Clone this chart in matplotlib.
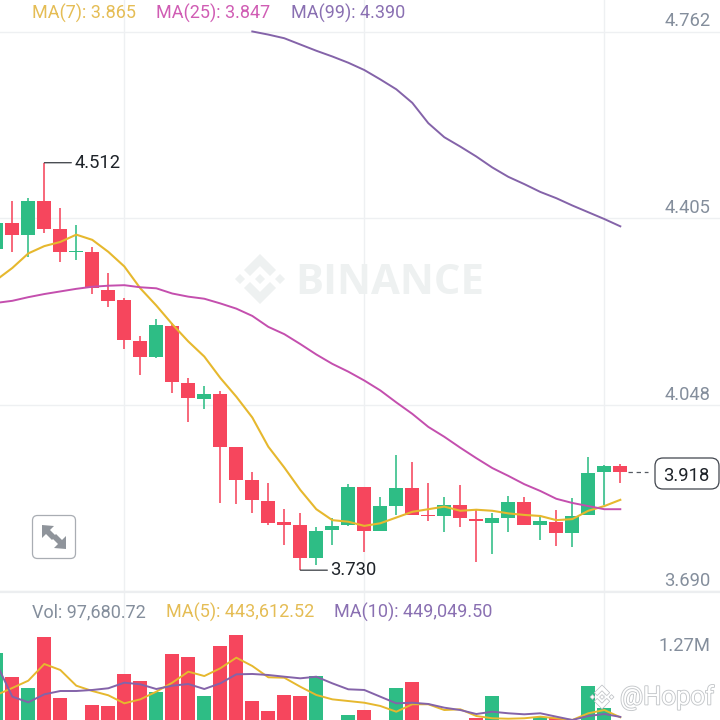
import matplotlib
matplotlib.use("Agg")
import matplotlib.pyplot as plt
import matplotlib.patheffects as pe
from matplotlib.patches import FancyBboxPatch, Polygon
from matplotlib.transforms import Affine2D, ScaledTranslation

opens = [4.346,4.396,4.373,4.438,4.384,4.340,4.341,4.268,4.249,4.170,4.140,4.199,4.089,4.059,4.069,3.967,3.904,3.863,3.822,3.817,
         3.754,3.807,3.816,3.889,3.806,3.853,3.888,3.836,3.833,3.856,3.829,3.821,3.830,3.861,3.816,3.823,3.802,3.835,3.919,3.929]
closes = [4.396,4.373,4.438,4.385,4.341,4.343,4.272,4.247,4.172,4.140,4.201,4.092,4.060,4.069,3.967,3.904,3.865,3.821,3.817,3.754,
          3.805,3.815,3.889,3.806,3.853,3.888,3.836,3.834,3.856,3.830,3.824,3.831,3.861,3.816,3.824,3.801,3.834,3.917,3.929,3.918]
highs = [4.396,4.438,4.444,4.512,4.426,4.392,4.351,4.300,4.252,4.180,4.212,4.204,4.098,4.083,4.074,3.967,3.918,3.898,3.847,3.840,
         3.812,3.831,3.895,3.889,3.871,3.952,3.938,3.897,3.871,3.893,3.847,3.839,3.873,3.870,3.833,3.845,3.868,3.948,3.932,3.933]
lows = [4.346,4.341,4.332,4.377,4.322,4.325,4.260,4.236,4.154,4.105,4.138,4.071,4.014,4.039,3.858,3.857,3.839,3.816,3.778,3.730,
        3.740,3.778,3.815,3.765,3.806,3.835,3.836,3.825,3.804,3.813,3.746,3.761,3.804,3.816,3.788,3.776,3.775,3.835,3.855,3.897]
ma7 = [4.287,4.310,4.338,4.352,4.360,4.374,4.364,4.341,4.313,4.271,4.238,4.202,4.169,4.140,4.099,4.063,4.023,3.967,3.927,3.884,
       3.847,3.826,3.823,3.815,3.820,3.831,3.842,3.847,3.852,3.844,3.846,3.844,3.839,3.836,3.834,3.826,3.828,3.844,3.853,3.865]
ma25 = [4.243,4.247,4.254,4.260,4.265,4.270,4.274,4.276,4.277,4.273,4.271,4.261,4.255,4.251,4.242,4.232,4.218,4.197,4.183,4.164,
        4.144,4.126,4.111,4.094,4.075,4.052,4.030,4.005,3.986,3.965,3.945,3.926,3.911,3.895,3.882,3.867,3.859,3.853,3.847,3.847]
ma99 = [4.764,4.758,4.751,4.739,4.727,4.716,4.704,4.690,4.672,4.653,4.627,4.588,4.561,4.543,4.524,4.503,4.485,4.471,4.456,4.444,
        4.430,4.417,4.404,4.390]
volumes = [1311,994,841,1528,709,340,606,593,1026,936,782,1302,1257,732,1414,1559,664,533,742,728,
           1003,339,479,542,298,837,926,271,298,325,438,732,339,380,452,430,325,868,565,97.68]
vol_ma5 = [746,841,940,1166,1085,872,800,742,633,687,791,913,1062,1003,1108,1252,1139,986,980,858,
           746,687,664,641,597,519,620,620,542,552,461,430,424,430,452,430,407,498,542,443.6]
vol_ma10 = [1176,723,647,755,800,800,814,837,913,891,827,872,895,827,904,1026,1031,1017,994,972,
            994,904,823,814,723,633,641,624,574,542,488,519,498,484,498,452,407,461,488,449.0]
price_ticks = [3.690, 4.047, 4.4054, 4.7630]
price_tick_labels = ["3.690", "4.048", "4.405", "4.762"]
vol_ticks = [1270]
vol_tick_labels = ["1.27M"]
time_ticks = [8, 23, 38]
legend_price = [("MA(7): 3.865", "#e5bd55"), ("MA(25): 3.847", "#d05db4"), ("MA(99): 4.390", "#8a70b2")]
legend_vol = [("Vol: 97,680.72", "#848e9c"), ("MA(5): 443,612.52", "#e5bd55"), ("MA(10): 449,049.50", "#8a70b2")]

RED, GREEN = "#f6465d", "#2ebd85"
YEL, MAG, PUR = "#e6b82e", "#c44fae", "#8463a9"
GRID, GRAY, DARK = "#eef0f2", "#848e9c", "#1e2329"
plt.rcParams["font.family"] = ["Roboto", "DejaVu Sans"]

fig = plt.figure(figsize=(7.2, 7.2), dpi=100, facecolor="white")
ax = fig.add_axes([0, 129/720, 1, 591/720])
vx = fig.add_axes([0, 0, 1, 128/720], sharex=ax)
px = Affine2D().scale(1, -1).translate(0, 720)   # pixel positions for overlay furniture

idx = list(range(len(opens)))
colors = [GREEN if c >= o else RED for o, c in zip(opens, closes)]
ax.set_xlim(0.231, 45.231)
ax.set_ylim(3.690, 4.8244)
vx.set_ylim(406.8, 2142.5)

for a in (ax, vx):
    for s in a.spines.values():
        s.set_visible(False)
    a.set_xticks(time_ticks)
    a.xaxis.grid(True, color=GRID, lw=1.0, zorder=0)
    a.set_axisbelow(True)
    a.tick_params(axis="x", length=0, labelbottom=False)
    a.yaxis.tick_right()
ax.set_yticks(price_ticks, price_tick_labels)
ax.yaxis.grid(True, color=GRID, lw=1.0)
vx.set_yticks(vol_ticks, vol_tick_labels)
for a, up in ((ax, 1.5), (vx, 1.5)):
    a.tick_params(axis="y", length=0, pad=-7.0, labelcolor=GRAY, labelsize=13.2)
    for t in a.yaxis.get_major_ticks():
        t.label2.set_ha("right")
        t.label2.set_va("bottom")
        t.label2.set_transform(t.label2.get_transform() + ScaledTranslation(0, up/100, fig.dpi_scale_trans))

# BINANCE watermark, under the candles
WM = "#eef1f1"
def logo(cx, cy, s, **kw):
    shapes = [
        [(0,-5),(5,0),(0,5),(-5,0)], [(-20,-5),(-15,0),(-20,5),(-25,0)], [(20,-5),(25,0),(20,5),(15,0)],
        [(0,-25),(16,-9),(10,-3),(0,-13),(-10,-3),(-16,-9)], [(0,25),(16,9),(10,3),(0,13),(-10,3),(-16,9)],
    ]
    return [Polygon([(cx+s*x, cy+s*y) for x, y in p], closed=True, transform=px, **kw) for p in shapes]
for p in logo(260, 279, 1.0, fc=WM, ec="none", zorder=1):
    ax.add_patch(p)
ax.text(295, 279, "BINANCE", transform=px, ha="left", va="center_baseline", fontsize=30.2,
        fontweight="bold", color=WM, zorder=1, family="Open Sans")

# candles
ax.vlines(idx, lows, highs, colors=colors, lw=1.15, zorder=3)
ax.bar(idx, [abs(c-o) for o, c in zip(opens, closes)], bottom=[min(o, c) for o, c in zip(opens, closes)],
       width=0.86, color=colors, lw=0, zorder=3)
ax.plot(idx, ma7, color=YEL, lw=1.5, zorder=4)
ax.plot(idx, ma25, color=MAG, lw=1.4, zorder=4)
ax.plot(idx[16:], ma99, color=PUR, lw=1.4, zorder=4)

# high / low markers
for i, val, txt in ((highs.index(max(highs)), max(highs), "4.512"), (lows.index(min(lows)), min(lows), "3.730")):
    ax.annotate(txt, xy=(i, val), xytext=(21.5, 0), textcoords="offset points", ha="left", va="center",
                fontsize=13.2, color=DARK, zorder=6,
                arrowprops=dict(arrowstyle="-", color=DARK, lw=0.8, shrinkA=0, shrinkB=0))

# last price
ax.plot([idx[-1]+0.5, idx[-1]+1.75], [closes[-1]]*2, color="#555a62", lw=0.9, ls=(0, (3.5, 3)), zorder=4)
ax.add_patch(FancyBboxPatch((658, 461), 58, 25, boxstyle="round,pad=3,rounding_size=8",
                            transform=px, fc="white", ec="#40454d", lw=0.9, zorder=5, clip_on=False))
ax.text(686.5, 474, "3.918", transform=px, ha="center", va="center_baseline", fontsize=13.2, color=DARK, zorder=6)

# expand button
ax.add_patch(FancyBboxPatch((36, 519), 36, 36, boxstyle="round,pad=3.5,rounding_size=5",
                            transform=px, fc="white", ec="#a9adb3", lw=0.9, zorder=5))
B = "#8f949b"
for pts in ([(42,525),(54,526),(50,530),(56,536),(52,540),(46,534),(42,538)],
            [(66,549),(54,548),(58,544),(52,538),(56,534),(62,540),(66,536)]):
    ax.add_patch(Polygon(pts, closed=True, transform=px, fc=B, ec="none", zorder=6))

# legends
for (txt, col), x in zip(legend_price, (32, 156.5, 291)):
    ax.text(x, 13, txt, transform=px, ha="left", va="center", fontsize=13, color=col, zorder=6)
fig.add_artist(plt.Line2D([0, 1], [128.5/720]*2, color="#eceef0", lw=1.6))

# volume pane
vx.bar(idx, volumes, width=0.86, color=colors, lw=0, zorder=3)
vx.plot(idx, vol_ma5, color=YEL, lw=1.4, zorder=4)
vx.plot(idx, vol_ma10, color=PUR, lw=1.4, zorder=4)
for (txt, col), x in zip(legend_vol, (32, 166, 334)):
    vx.text(x, 612.5, txt, transform=px, ha="left", va="center", fontsize=13, color=col, zorder=6)

# @Hopof watermark, over everything
stroke = [pe.withStroke(linewidth=1.3, foreground="#c4c7ca")]
for p in logo(602, 697, 0.48, fc="white", ec="#b9bcc0", lw=0.5, zorder=8):
    vx.add_patch(p)
    p.set_clip_on(False)
vx.text(620, 697, "@Hopof", transform=px, ha="left", va="center", fontsize=18.5, color="white",
        path_effects=stroke, zorder=8, clip_on=False)

fig.savefig("out.png", dpi=100)
